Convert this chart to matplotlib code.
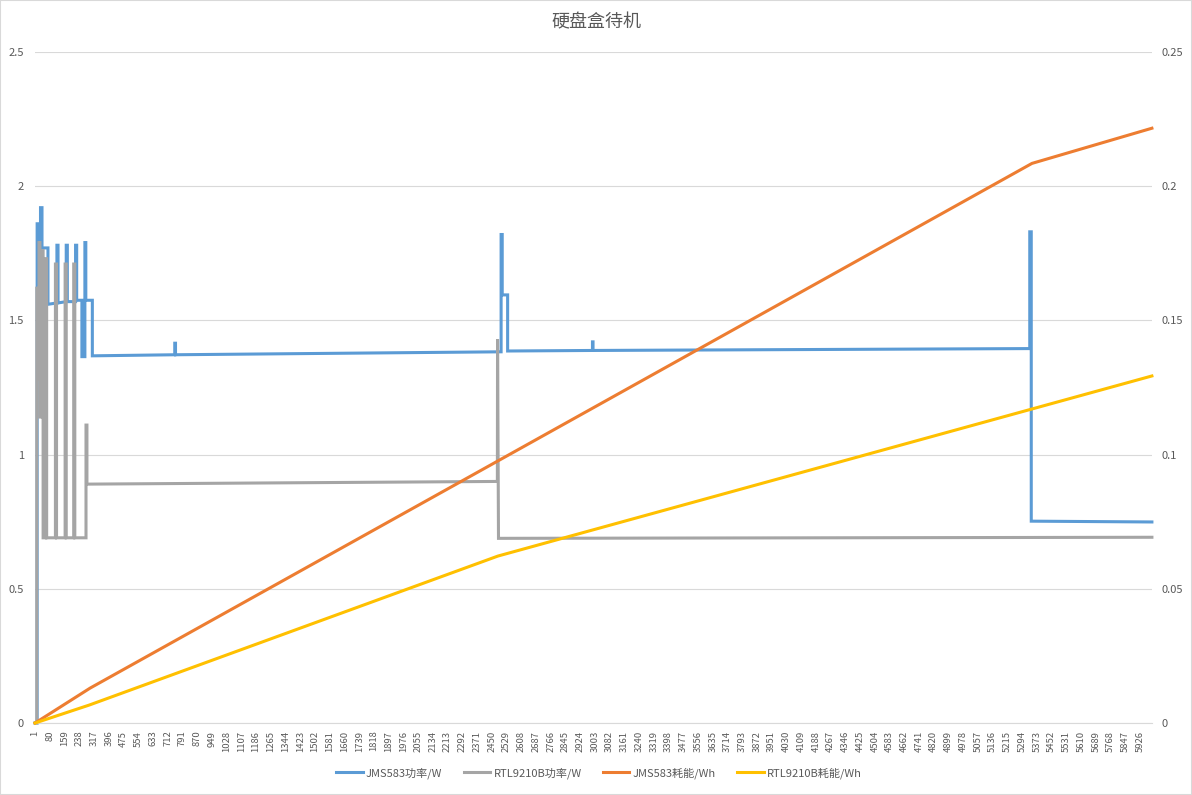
import matplotlib
matplotlib.use('Agg')
import matplotlib.pyplot as plt
from matplotlib.patches import Rectangle

plt.rcParams['font.family'] = ['Noto Sans CJK SC', 'DejaVu Sans']

# sample index of the last point
n_points = 5990

# power traces, vertices (sample index, watts)
jms_idx = [1, 12, 12, 24, 24, 30, 30, 38, 38, 70, 70, 118, 118, 124, 124,
           168, 168, 174, 174, 218, 218, 224, 224, 252, 252, 268, 268, 273,
           273, 308, 308, 750, 750, 754, 754, 2500, 2500, 2506, 2506, 2535,
           2535, 2990, 2990, 2993, 2993, 5335, 5335, 5343, 5343, 5990]
jms_w = [0.0, 0.0, 1.86, 1.86, 1.80, 1.80, 1.92, 1.92, 1.77, 1.77, 1.56,
         1.565, 1.78, 1.78, 1.565, 1.57, 1.78, 1.78, 1.57, 1.57, 1.78, 1.78,
         1.575, 1.575, 1.365, 1.365, 1.79, 1.79, 1.575, 1.575, 1.368, 1.372,
         1.415, 1.415, 1.372, 1.383, 1.82, 1.82, 1.595, 1.595, 1.386, 1.388,
         1.42, 1.42, 1.388, 1.395, 1.83, 1.83, 0.752, 0.749]

rtl_idx = [1, 10, 10, 15, 15, 22, 22, 27, 27, 32, 32, 44, 44, 58, 58, 63, 63,
           110, 110, 116, 116, 162, 162, 168, 168, 208, 208, 214, 214, 274,
           274, 279, 279, 2480, 2481, 2486, 5990]
rtl_w = [0.0, 0.0, 1.62, 1.62, 1.28, 1.28, 1.79, 1.79, 1.14, 1.14, 1.76, 1.76,
         0.69, 0.69, 1.73, 1.73, 0.69, 0.69, 1.71, 1.71, 0.69, 0.69, 1.71,
         1.71, 0.69, 0.69, 1.71, 1.71, 0.69, 0.69, 1.11, 1.11, 0.89, 0.90,
         1.43, 0.688, 0.692]

# cumulative energy (Wh), kink points
jms_e_idx = [1, 296, 5347, 5990]
jms_wh = [0.0, 0.013, 0.2085, 0.2216]
rtl_e_idx = [1, 292, 2483, 5990]
rtl_wh = [0.0, 0.0067, 0.0622, 0.1293]

tick_pos = list(range(1, n_points, 79))

fig = plt.figure(figsize=(11.92, 7.95), dpi=100)
ax = fig.add_axes([35 / 1192, 1 - 723 / 795, (1152 - 35) / 1192, (723 - 52) / 795])
ax2 = ax.twinx()

lw = 2.2
l1, = ax.plot(jms_idx, jms_w, color='#5B9BD5', lw=lw, clip_on=False,
              solid_joinstyle='miter', label='JMS583功率/W')
l2, = ax.plot(rtl_idx, rtl_w, color='#A5A5A5', lw=lw, clip_on=False,
              solid_joinstyle='miter', label='RTL9210B功率/W')
l3, = ax2.plot(jms_e_idx, jms_wh, color='#ED7D31', lw=lw, clip_on=False,
               label='JMS583耗能/Wh')
l4, = ax2.plot(rtl_e_idx, rtl_wh, color='#FFC000', lw=lw, clip_on=False,
               label='RTL9210B耗能/Wh')

ax.set_xlim(0.5, n_points + 0.5)
ax.set_ylim(0, 2.5)
ax2.set_ylim(0, 0.25)
ax.set_yticks([0, 0.5, 1, 1.5, 2, 2.5])
ax.set_yticklabels(['0', '0.5', '1', '1.5', '2', '2.5'])
ax2.set_yticks([0, 0.05, 0.1, 0.15, 0.2, 0.25])
ax2.set_yticklabels(['0', '0.05', '0.1', '0.15', '0.2', '0.25'])
ax.set_xticks(tick_pos)
ax.set_xticklabels([str(t) for t in tick_pos], rotation=90)

txt = '#595959'
ax.tick_params(axis='x', length=0, pad=5.5, labelsize=6.8, labelcolor=txt)
ax.tick_params(axis='y', length=0, pad=8, labelsize=8, labelcolor=txt)
ax2.tick_params(axis='y', length=0, pad=7, labelsize=8, labelcolor=txt)

ax.grid(axis='y', color='#D9D9D9', lw=0.8)
ax.set_axisbelow(True)
for a in (ax, ax2):
    for s in ('top', 'left', 'right', 'bottom'):
        a.spines[s].set_visible(False)
ax.spines['bottom'].set_visible(True)
ax.spines['bottom'].set_color('#D9D9D9')
ax.spines['bottom'].set_linewidth(0.8)

fig.text(0.5, 1 - 22 / 795, '硬盘盒待机', ha='center', va='center',
         fontsize=13, color=txt)

fig.legend(handles=[l1, l2, l3, l4], loc='center', ncol=4, frameon=False,
           bbox_to_anchor=(0.5025, 1 - 773 / 795), fontsize=8,
           handlelength=2.4, handletextpad=0.3, columnspacing=1.9,
           labelcolor=txt)

fig.add_artist(Rectangle((0, 0), 1, 1, transform=fig.transFigure,
                         fill=False, edgecolor='#D9D9D9', lw=1.5))

fig.savefig('out.png', dpi=100)
